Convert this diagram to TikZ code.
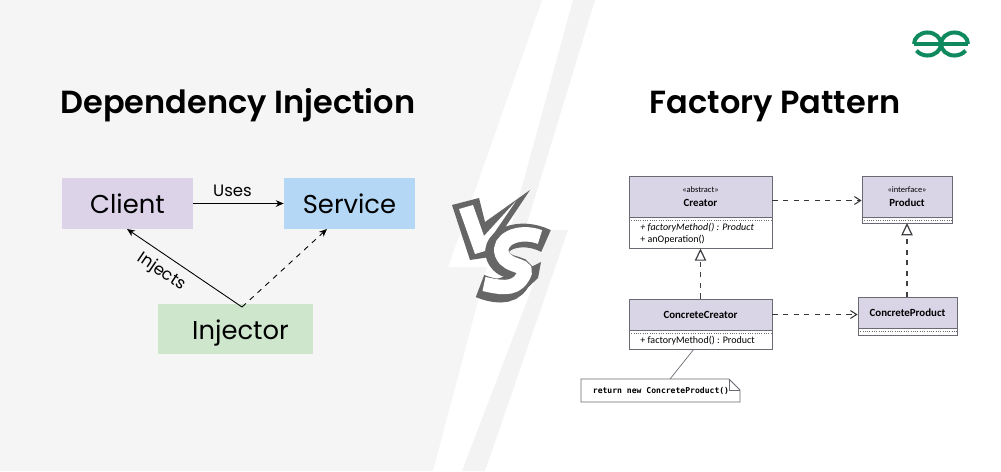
\documentclass[tikz,border=0pt]{standalone}
\usepackage{fontspec}
\setmainfont{Poppins}
\newfontfamily\titlefont{Poppins SemiBold}
\newfontfamily\umlfont{Carlito}
\newfontfamily\codefont{DejaVu Sans Mono}
\usetikzlibrary{arrows.meta}
\definecolor{panelgray}{HTML}{F5F5F5}
\definecolor{stripegray}{HTML}{F3F3F3}
\definecolor{clientfill}{HTML}{DCD3E9}
\definecolor{servicefill}{HTML}{B3D7F5}
\definecolor{injectorfill}{HTML}{CDE6CC}
\definecolor{umlfill}{HTML}{D9D4E6}
\definecolor{umledge}{HTML}{6A6A72}
\definecolor{vsgray}{HTML}{666666}
\definecolor{gfggreen}{HTML}{0F8A5F}
\tikzset{
    titletext/.style={font=\titlefont\fontsize{18.2pt}{22pt}\selectfont, text=black},
    diblock/.style={inner sep=0pt, font=\fontsize{14.7pt}{17pt}\selectfont},
    dilabel/.style={font=\fontsize{9.4pt}{11pt}\selectfont},
    umlhead/.style={draw=umledge, fill=umlfill, line width=0.5pt, inner sep=0pt, align=center, font=\umlfont\fontsize{6.2pt}{7.6pt}\selectfont},
    umlbody/.style={draw=umledge, fill=white, line width=0.5pt, inner sep=0pt},
    umlsep/.style={umledge, line width=0.3pt, densely dotted},
    umltext/.style={anchor=west, inner sep=0pt, font=\umlfont\fontsize{5.7pt}{7pt}\selectfont},
    realize/.style={umledge!60!black, line width=0.7pt, dashed, -{Triangle[open, fill=white, length=7pt, width=6.5pt]}},
    depend/.style={umledge!50!black, line width=0.6pt, dashed, -{Straight Barb[length=3.5pt, width=4.5pt]}},
    usearrow/.style={line width=0.5pt, -{Stealth[length=4.5pt, width=3.8pt]}}
}
\begin{document}
\begin{tikzpicture}[x=0.02cm, y=-0.02cm]
    \useasboundingbox (0,0) rectangle (1001,471);
    \fill[white] (0,0) rectangle (1001,471);
    % background
    \fill[panelgray] (0,0) -- (542,0) -- (448,267) -- (487,267) -- (433,471) -- (0,471) -- cycle;
    \fill[stripegray] (573,0) -- (595,0) -- (525,230) -- (568,230) -- (485,471) -- (462,471) -- (540,267) -- (500,267) -- cycle;
    % titles
    \node[titletext] (dititle) at (238,105) {Dependency Injection};
    \node[titletext] (fptitle) at (775,107) {Factory Pattern};
    % logo
    \draw[gfggreen, line width=2.3pt] (914,44) -- (968,44);
    \draw[gfggreen, line width=2.3pt] (968,44) arc[start angle=0, end angle=-325, x radius=13.5, y radius=11.5];
    \draw[gfggreen, line width=2.3pt] (914,44) arc[start angle=180, end angle=505, x radius=13.5, y radius=11.5];
    % left diagram
    \node[diblock, fill=clientfill, minimum width=131*0.02cm, minimum height=51*0.02cm] (client) at (127.5,203.5) {Client};
    \node[diblock, fill=servicefill, minimum width=131*0.02cm, minimum height=51*0.02cm] (service) at (349.5,203.5) {Service};
    \node[diblock, fill=injectorfill, minimum width=155*0.02cm, minimum height=50*0.02cm, text height=12.4pt, text depth=0pt] (injector) at (235.5,329) {\hspace{0.2cm}Injector};
    \coordinate (apex) at (242,307);
    \coordinate (clienttip) at (127,229);
    \coordinate (servicetip) at (327,229);
    \draw[usearrow] (client) -- (service) node[midway, above=0.4pt, xshift=-0.12cm, dilabel] {Uses};
    \draw[usearrow] (apex) -- (clienttip) node[pos=0.62, sloped, below=1pt, dilabel] {Injects};
    \draw[usearrow, dashed] (apex) -- (servicetip);
    % VS
    \fill[vsgray] (452,205) -- (479,198) -- (485,222) -- (530,190) -- (500,235) -- (490,257) -- (470,260) -- cycle;
    \fill[white] (459,209) -- (473,205) -- (484,236) -- (516,201) -- (492,236) -- (485,251) -- (475,254) -- cycle;
    \draw[vsgray, line width=13.5pt] (546,241) .. controls (520,228) and (492,240) .. (498,256) .. controls (505,274) and (530,262) .. (518,281) .. controls (510,295) and (492,291) .. (480,286);
    \fill[vsgray] (479,296) -- (484,283) -- (525,270) -- (541,262) -- (538,278) -- (520,295) -- (500,300) -- cycle;
    \draw[white, line width=8.2pt] (540,237) .. controls (518,229) and (497,240) .. (502,254) .. controls (508,270) and (533,262) .. (522,278) .. controls (514,291) and (498,287) .. (484,284);
    % right diagram
    \node[umlhead, minimum width=143*0.02cm, minimum height=41*0.02cm] (creator) at (700.5,196.5) {{\fontsize{4.8pt}{6pt}\selectfont «abstract»}\\\textbf{Creator}};
    \node[umlbody, minimum width=143*0.02cm, minimum height=31*0.02cm] (creatorbody) at (700.5,232.5) {};
    \draw[umlsep] (629,220) -- (772,220);
    \node[umltext] (creatorm) at (640,228) {\textit{+ factoryMethod() : Product}};
    \node[umltext] (creatoro) at (640,240) {+ anOperation()};
    \node[umlhead, minimum width=90*0.02cm, minimum height=41*0.02cm] (product) at (907,196.5) {{\fontsize{4.8pt}{6pt}\selectfont «interface»}\\\textbf{Product}};
    \node[umlbody, minimum width=90*0.02cm, minimum height=6*0.02cm] (productbody) at (907,220) {};
    \draw[umlsep] (862,220) -- (952,220);
    \node[umlhead, minimum width=143*0.02cm, minimum height=31*0.02cm] (ccreator) at (700.5,314.5) {\textbf{ConcreteCreator}};
    \node[umlbody, minimum width=143*0.02cm, minimum height=19*0.02cm] (ccreatorbody) at (700.5,339.5) {};
    \draw[umlsep] (629,333) -- (772,333);
    \node[umltext] (ccreatorm) at (640,341) {+ factoryMethod() : Product};
    \node[umlhead, minimum width=99*0.02cm, minimum height=31*0.02cm] (cproduct) at (907.5,312.5) {\textbf{ConcreteProduct}};
    \node[umlbody, minimum width=99*0.02cm, minimum height=7*0.02cm] (cproductbody) at (907.5,331.5) {};
    \draw[umlsep] (858,331) -- (957,331);
    % note
    \draw[umlbody] (581,379) -- (729,379) -- (740,390) -- (740,402) -- (581,402) -- cycle;
    \draw[umledge, line width=0.4pt] (729,379) -- (729,390) -- (740,390);
    \node[inner sep=0pt, font=\codefont\fontsize{4.6pt}{6pt}\selectfont\bfseries] (notetext) at (661,391) {return new ConcreteProduct()};
    \coordinate (notetop) at (670,379);
    \coordinate (ccreatorfoot) at (694,349);
    \draw[umledge, line width=0.4pt] (ccreatorfoot) -- (notetop);
    % connectors
    \draw[depend] ([yshift=-0.08cm]creator.east) -- ([yshift=-0.08cm]product.west);
    \draw[depend] (ccreator.east) -- (cproduct.west |- ccreator.east);
    \draw[realize] (ccreator.north) -- (creatorbody.south);
    \coordinate (cproducttop) at (907,297);
    \coordinate (productfoot) at (907,223);
    \draw[realize] (cproducttop) -- (productfoot);
\end{tikzpicture}
\end{document}
